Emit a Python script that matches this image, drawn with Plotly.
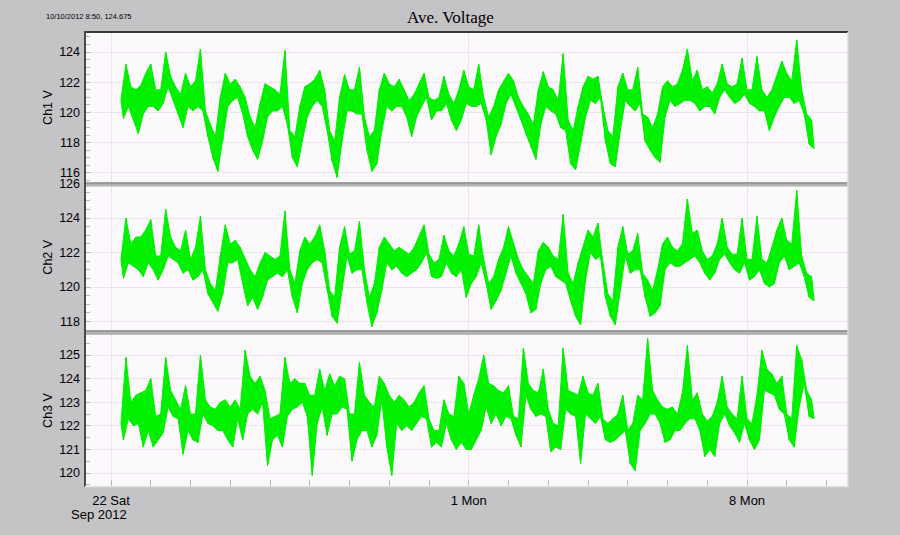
import pandas as pd
import plotly.graph_objects as go

# ---------------- data ----------------
# samples every 3 hours starting 2012-09-22 06:00; each sample = (high, low) of the noisy band
start_time = "2012-09-22 06:00"
step_hours = 3

ch1_hi = [120.8,123.2,121.7,121.5,121.8,122.6,123.2,121.5,121.5,124.0,122.4,121.7,121.2,122.6,121.7,122.1,124.2,120.1,119.2,118.4,121.0,122.6,121.9,122.2,121.7,121.0,119.7,119.0,
          120.6,121.9,121.7,121.5,121.2,124.1,118.8,118.4,120.4,121.7,121.9,122.2,122.8,121.5,118.8,118.1,121.0,122.5,121.5,121.5,123.0,119.7,118.4,118.8,121.5,122.6,121.9,121.7,
          122.2,121.5,120.8,121.2,121.9,122.6,121.0,120.8,121.0,122.4,121.2,120.6,121.5,122.8,121.7,121.5,123.2,121.0,119.7,120.4,121.5,122.1,122.6,122.1,121.0,120.4,119.9,119.2,
          121.5,122.7,121.7,121.5,120.8,123.9,119.5,118.8,120.4,121.7,122.4,122.2,122.4,120.4,118.8,118.4,121.7,122.6,121.5,121.5,123.0,119.9,119.7,119.0,119.9,121.7,122.1,121.7,
          121.9,122.8,124.2,122.1,122.8,121.5,121.7,121.3,121.9,123.2,121.9,121.7,121.9,123.6,121.5,121.5,123.7,121.5,121.0,121.5,122.4,123.4,122.6,122.1,124.8,121.5,119.9,119.5]
ch1_lo = [119.6,120.4,119.5,118.6,119.9,120.4,120.4,120.1,120.6,121.7,120.8,119.9,119.0,120.4,120.1,120.4,120.1,118.4,117.0,116.1,118.1,120.4,120.8,121.0,119.9,118.4,117.5,116.9,
          118.1,119.7,120.1,120.1,120.4,119.2,117.0,116.4,118.1,119.7,120.4,120.8,120.4,118.8,116.8,115.7,118.1,120.1,120.1,119.9,119.9,117.5,116.1,116.6,118.8,120.4,120.1,120.4,
          120.4,119.7,118.4,119.7,120.4,121.0,119.5,120.1,120.1,120.6,119.5,118.8,119.5,120.6,120.4,120.4,120.6,119.5,117.2,118.4,119.2,120.6,121.2,120.4,119.5,118.6,117.7,116.9,
          119.2,120.4,120.1,119.9,119.0,118.8,116.6,116.2,117.9,119.7,120.8,120.6,121.0,118.1,116.6,116.4,118.8,120.8,120.4,120.1,120.6,118.1,117.5,117.0,116.7,119.7,120.8,120.4,
          120.6,120.8,120.8,120.6,120.1,120.4,120.4,119.9,121.0,121.5,121.0,120.6,120.8,121.2,120.6,120.4,120.1,120.1,118.8,119.7,120.4,121.0,121.0,120.6,120.8,119.9,117.9,117.6]

ch2_hi = [121.6,124.0,122.5,122.9,122.9,123.3,123.9,121.8,121.8,124.5,122.9,122.3,122.1,123.3,121.6,122.3,124.1,121.0,120.2,119.8,121.8,123.6,122.5,122.7,122.3,121.6,121.0,120.6,
          121.4,122.0,121.8,121.6,121.8,124.4,121.0,120.2,122.1,122.9,122.5,122.9,123.6,122.1,119.8,119.4,122.3,123.5,121.9,122.1,123.8,121.0,119.4,120.2,122.3,122.9,122.5,122.1,
          122.3,122.1,121.9,122.3,122.9,123.6,121.9,121.4,121.6,123.0,122.1,121.8,122.5,123.5,121.9,121.8,123.6,121.6,120.2,120.6,121.6,122.3,123.5,122.5,121.6,121.0,120.6,120.2,
          122.1,122.6,122.3,121.8,121.6,124.2,120.8,120.2,121.4,122.3,123.3,122.9,123.7,121.4,119.6,119.2,122.3,123.5,121.9,122.1,123.1,120.8,120.4,119.8,121.0,122.5,122.9,122.3,
          122.1,122.5,125.1,123.1,123.3,122.1,121.6,121.8,122.5,124.0,122.3,121.9,121.9,124.0,121.6,121.6,124.1,121.6,121.4,122.3,123.3,124.0,122.7,122.5,125.6,121.8,120.8,120.6]
ch2_lo = [120.5,121.4,121.2,121.0,120.6,121.4,121.0,120.4,121.0,121.8,121.6,121.4,120.8,121.0,120.4,120.6,121.0,119.6,119.1,118.6,119.6,121.4,121.4,121.6,120.2,118.9,119.4,118.7,
          119.4,120.4,120.6,120.8,120.6,121.0,119.4,118.5,120.2,121.0,121.4,121.6,121.4,119.8,118.3,117.9,119.8,121.8,120.8,121.0,121.0,119.1,117.7,118.5,119.8,121.4,121.0,121.2,
          120.8,120.6,120.8,121.0,121.4,122.0,120.6,120.5,120.6,121.4,120.8,120.6,121.0,119.4,120.2,120.6,121.4,120.2,118.7,119.2,119.8,120.8,121.8,120.8,120.2,119.6,118.5,118.7,
          120.2,121.0,121.2,120.6,120.4,120.2,119.2,118.3,117.8,120.4,122.0,121.6,121.8,119.4,118.3,117.8,119.8,121.8,120.8,121.0,121.0,119.4,118.3,118.5,118.9,121.0,121.4,121.2,
          121.2,121.4,121.6,121.8,121.4,120.8,120.4,120.8,121.6,121.9,121.4,121.0,120.8,121.4,120.4,120.6,121.0,120.2,120.0,120.2,121.4,121.8,121.0,121.2,121.4,120.6,119.4,119.2]

ch3_hi = [122.1,124.9,123.0,123.3,123.4,123.5,124.0,122.4,122.5,124.9,123.5,123.1,122.7,123.7,122.5,122.5,125.0,123.1,122.8,122.7,123.0,123.1,122.8,123.1,122.7,125.2,124.1,123.8,
          124.1,123.5,122.3,122.4,122.5,124.9,123.8,124.0,123.8,123.8,123.3,123.3,124.4,123.5,124.2,123.7,124.1,124.0,122.5,122.5,124.7,123.3,123.0,122.8,124.1,123.8,123.3,123.0,
          123.3,123.1,122.8,123.0,123.4,123.7,122.3,121.8,121.8,123.1,122.5,122.4,124.1,123.8,122.5,123.3,124.0,125.0,123.8,123.7,123.5,123.4,123.7,122.4,122.3,125.3,123.8,123.5,
          123.4,124.4,122.7,122.1,122.0,125.3,123.5,123.4,123.3,124.1,123.4,123.3,123.8,122.3,122.1,122.3,122.5,123.3,121.8,122.1,123.3,123.1,125.7,123.5,123.1,122.8,122.7,122.8,
          122.5,123.4,125.4,123.1,123.4,122.5,122.2,122.4,123.0,124.1,122.8,122.5,122.3,124.1,122.3,122.1,123.3,125.2,124.4,124.2,123.8,124.1,122.5,122.3,125.4,124.8,123.5,123.1]
ch3_lo = [121.4,122.3,122.0,122.1,121.1,121.8,121.1,121.4,121.7,122.8,122.4,122.3,120.8,121.8,121.4,121.3,122.5,122.1,122.0,121.8,121.8,121.4,121.1,122.3,121.4,122.5,122.7,122.5,
          123.0,120.3,121.4,121.6,121.1,122.4,122.7,122.8,123.0,122.4,119.9,122.1,122.8,121.6,122.5,122.5,122.8,122.7,120.5,121.4,121.8,121.8,121.1,121.6,123.1,121.1,119.9,122.1,
          121.8,122.0,121.8,122.1,122.4,122.3,121.1,121.3,121.1,122.1,121.4,121.0,121.3,121.0,121.0,121.4,121.8,122.8,122.1,122.5,122.0,122.4,122.3,121.6,121.1,123.3,122.7,122.4,
          122.5,122.4,120.9,121.1,121.0,122.7,122.5,122.4,120.4,122.5,122.3,122.1,122.4,121.4,121.3,121.4,121.6,121.8,120.4,120.1,121.8,122.1,122.5,122.5,122.1,121.3,121.4,121.8,
          121.8,122.1,122.3,122.3,121.8,120.7,121.0,120.7,122.1,122.5,122.0,121.7,121.3,122.1,121.4,121.0,121.4,123.5,123.4,123.3,122.7,122.5,121.4,121.1,122.8,123.8,122.4,122.3]

channel_names = ["Ch1 V", "Ch2 V", "Ch3 V"]
ytick_vals = [[116, 118, 120, 122, 124],
              [118, 120, 122, 124, 126],
              [120, 121, 122, 123, 124, 125]]
xtick_dates = ["2012-09-22", "2012-10-01", "2012-10-08"]
xtick_text = ["22 Sat", "1 Mon", "8 Mon"]
chart_title = "Ave. Voltage"
cursor_text = "10/10/2012 8:50, 124.675"
year_text = "Sep 2012"

# ---------------- build ----------------
W, H = 900, 535
def px(x):
    return x / W
def py(y):
    return (H - y) / H

t0 = pd.Timestamp(start_time)
dt = pd.Timedelta(hours=step_hours)
times = [t0 + k * dt for k in range(len(ch1_hi))]
times_mid = [t + dt / 2 for t in times]

def zigzag(hi, lo):
    xs, ys = [], []
    for t, tm, h, l in zip(times, times_mid, hi, lo):
        xs += [t, tm]
        ys += [h, l]
    return xs, ys

GREEN = "#00f000"
fig = go.Figure()
for i, (hi, lo) in enumerate([(ch1_hi, ch1_lo), (ch2_hi, ch2_lo), (ch3_hi, ch3_lo)]):
    yax = "y" if i == 0 else f"y{i+1}"
    # lower envelope
    fig.add_trace(go.Scatter(x=times_mid, y=lo, mode="lines", xaxis="x", yaxis=yax,
                             line=dict(color=GREEN, width=1), showlegend=False,
                             hoverinfo="skip"))
    # upper envelope filled down to the lower one
    fig.add_trace(go.Scatter(x=times, y=hi, mode="lines", xaxis="x", yaxis=yax,
                             fill="tonexty", fillcolor=GREEN,
                             line=dict(color=GREEN, width=1), showlegend=False,
                             hoverinfo="skip"))
    # the noisy trace itself
    xs, ys = zigzag(hi, lo)
    fig.add_trace(go.Scatter(x=xs, y=ys, mode="lines", xaxis="x", yaxis=yax,
                             line=dict(color=GREEN, width=1), showlegend=False,
                             hoverinfo="skip"))

x_left, x_right = 85, 848
domains = [(py(183), py(32)), (py(331), py(183.5)), (py(486), py(335))]
ranges = [(115.33, 125.33), (117.45, 126.0), (119.45, 125.85)]

font_sans = "Liberation Sans, Arial, sans-serif"
GRID = "#ece5ec"
TICK = "#b8b8b8"

layout = dict(
    width=W, height=H, autosize=False,
    margin=dict(l=0, r=0, t=0, b=0, pad=0),
    paper_bgcolor="#c4c3c6", plot_bgcolor="#fcf9fc",
    font=dict(family=font_sans, size=12.5, color="#000000"),
    showlegend=False,
    xaxis=dict(domain=[px(x_left), px(x_right)], anchor="y3", type="date",
               range=["2012-09-21 08:18", "2012-10-10 12:58"],
               tickmode="array", tickvals=xtick_dates, ticktext=xtick_text,
               ticks="inside", ticklen=6, tickcolor=TICK, ticklabelstandoff=5,
               tickfont=dict(size=13, family=font_sans, color="#000"),
               showgrid=True, gridcolor=GRID, gridwidth=1,
               minor=dict(dtick=86400000, tick0="2012-09-22", ticks="inside",
                          ticklen=6, tickcolor=TICK, showgrid=False),
               showline=False, zeroline=False, automargin=False),
)
for i in range(3):
    key = "yaxis" if i == 0 else f"yaxis{i+1}"
    layout[key] = dict(domain=list(domains[i]), anchor="x", range=list(ranges[i]),
                       tickmode="array", tickvals=ytick_vals[i],
                       ticks="inside", ticklen=5, tickcolor=TICK, ticklabelstandoff=4,
                       tickfont=dict(size=12.5, family=font_sans, color="#000"),
                       minor=dict(dtick=0.5, tick0=0, ticks="inside", ticklen=5,
                                  tickcolor=TICK, showgrid=False),
                       showgrid=True, gridcolor=GRID, gridwidth=1,
                       zeroline=False, showline=False, automargin=False,
                       title=dict(text=channel_names[i], standoff=3,
                                  font=dict(size=12.5, family=font_sans, color="#000")))
fig.update_layout(**layout)

shapes = []
# separators between panels
for ys in [(182.5, 186.5), (330.5, 334.5)]:
    shapes.append(dict(type="rect", xref="paper", yref="paper", layer="above",
                       x0=px(x_left), x1=px(x_right), y0=py(ys[1]), y1=py(ys[0]),
                       fillcolor="#b2b2b2", line=dict(width=0)))
    shapes.append(dict(type="line", xref="paper", yref="paper", layer="above",
                       x0=px(x_left), x1=px(x_right), y0=py(ys[0] + 0.5), y1=py(ys[0] + 0.5),
                       line=dict(color="#8f8f8f", width=1.5)))
# frame
shapes.append(dict(type="line", xref="paper", yref="paper", layer="above",
                   x0=px(x_left), x1=px(x_right), y0=py(32), y1=py(32),
                   line=dict(color="#3a3a3a", width=2)))
shapes.append(dict(type="line", xref="paper", yref="paper", layer="above",
                   x0=px(x_left), x1=px(x_left), y0=py(487), y1=py(31),
                   line=dict(color="#4a4a4a", width=2)))
shapes.append(dict(type="line", xref="paper", yref="paper", layer="above",
                   x0=px(x_right), x1=px(x_right), y0=py(487), y1=py(32),
                   line=dict(color="#dcdcdc", width=1.5)))
shapes.append(dict(type="line", xref="paper", yref="paper", layer="above",
                   x0=px(x_left), x1=px(x_right), y0=py(486.5), y1=py(486.5),
                   line=dict(color="#e4e4e4", width=1.5)))
fig.update_layout(shapes=shapes)

fig.add_annotation(text=chart_title, xref="paper", yref="paper", x=0.5, y=py(18),
                   xanchor="center", yanchor="middle", showarrow=False,
                   font=dict(family="Liberation Serif, Times New Roman, serif", size=17, color="#000"))
fig.add_annotation(text=cursor_text, xref="paper", yref="paper", x=px(44), y=py(16),
                   xanchor="left", yanchor="middle", showarrow=False,
                   font=dict(family=font_sans, size=7.5, color="#000"))
fig.add_annotation(text=year_text, xref="paper", yref="paper", x=px(99), y=py(514),
                   xanchor="center", yanchor="middle", showarrow=False,
                   font=dict(family=font_sans, size=13, color="#000"))

fig.write_html("out.html")
